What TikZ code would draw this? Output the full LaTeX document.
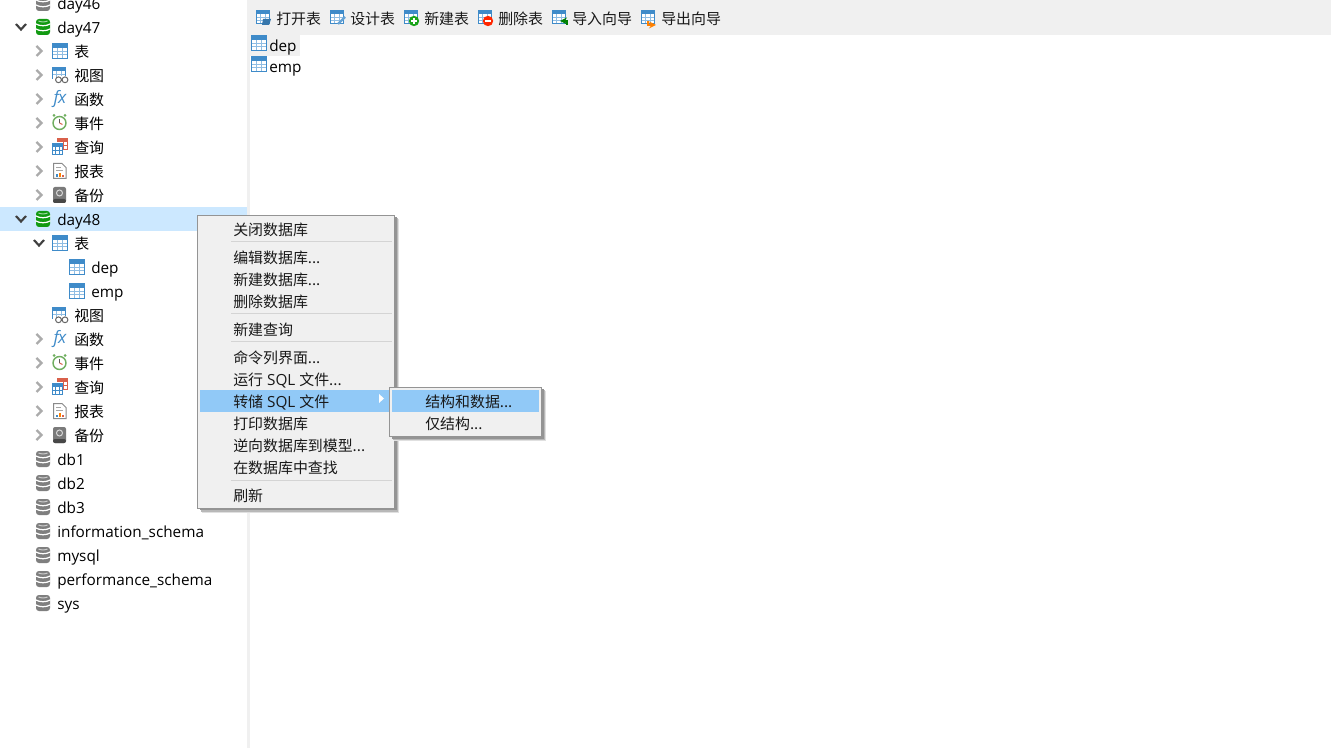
\documentclass[tikz,border=0pt]{standalone}
\usepackage{fontspec}
\setmainfont[Scale=1.025]{Open Sans}
\newfontfamily\cjk{Noto Sans CJK SC}
\newcommand{\uitext}{\fontsize{11.2pt}{13pt}\selectfont}
\newcommand{\cn}[1]{{\cjk #1}}
\definecolor{panel}{HTML}{F0F0F0}
\definecolor{sel}{HTML}{CCE8FF}
\definecolor{hl}{HTML}{91C9F7}
\definecolor{tblue}{HTML}{3F8BC9}
\definecolor{tline}{HTML}{8FBDE3}
\definecolor{dbgreen}{HTML}{129A12}
\definecolor{dbgray}{HTML}{7F7F7F}
\definecolor{sepc}{HTML}{D4D4D4}
\definecolor{chev}{HTML}{ABABAB}
\definecolor{chevd}{HTML}{404040}
\definecolor{treport}{HTML}{8A8A8A}
\definecolor{salmon}{HTML}{D9604A}
\definecolor{clockg}{HTML}{6FAE5F}
\tikzset{
  x=0.75pt,y=-0.75pt,
  lab/.style={anchor=base west,inner sep=0pt,yshift=-4.9pt,text=black,font=\uitext},
  tb/.style={lab,text=black!90},
  menubox/.style={fill=panel,draw=black!42,line width=0.75pt},
  sepline/.style={draw=sepc,line width=0.75pt},
  closed/.style={draw=chev,line width=1.6pt},
  open/.style={draw=chevd,line width=1.6pt}
}
\newcommand{\softshadow}[4]{%
  \fill[black!12] (#1+4,#2+4) rectangle (#3+4.5,#4+4.5);
  \fill[black!28] (#1+3,#2+3) rectangle (#3+3.5,#4+3.5);
  \fill[black!42] (#1+2,#2+2) rectangle (#3+2,#4+2);}
\newcommand{\tblicon}[2]{%
  \begin{scope}[shift={(#1,#2)}]
    \fill[white] (0,0) rectangle (16,16);
    \fill[tblue] (0,0) rectangle (16,5);
    \draw[tline,line width=0.75pt] (5.5,5) -- (5.5,15.5) (10.5,5) -- (10.5,15.5) (0.5,8.5) -- (15.5,8.5) (0.5,12) -- (15.5,12);
    \draw[tblue,line width=0.75pt] (0.5,1) -- (0.5,15.5) -- (15.5,15.5) -- (15.5,1);
  \end{scope}}
\newcommand{\dbicon}[3]{%
  \begin{scope}[shift={(#1,#2)}]
    \fill[#3,rounded corners=2.2pt] (-7,-8) rectangle (7,8);
    \draw[white,line width=0.9pt] (-7.5,-3.2) .. controls (-3,-0.6) and (3,-0.6) .. (7.5,-3.2);
    \draw[white,line width=0.9pt] (-7.5,1.8) .. controls (-3,4.4) and (3,4.4) .. (7.5,1.8);
    \draw[white,opacity=.6,line width=0.75pt] (-4.5,-6) .. controls (-2,-4.8) and (2,-4.8) .. (4.5,-6);
  \end{scope}}
\newcommand{\chevclosed}[2]{\draw[closed] (#1-2.5,#2-5) -- (#1+2.5,#2) -- (#1-2.5,#2+5);}
\newcommand{\chevopen}[2]{\draw[open] (#1-5,#2-3) -- (#1,#2+2.5) -- (#1+5,#2-3);}
\newcommand{\viewicon}[2]{%
  \begin{scope}[shift={(#1,#2)}]
    \fill[tblue] (0,0) rectangle (14,4.5);
    \draw[tline,line width=0.75pt] (4.5,4) -- (4.5,10) (9,4) -- (9,9) (0.5,7.5) -- (13.5,7.5);
    \draw[tblue,line width=0.75pt] (0.5,4) -- (0.5,12) (13.5,4) -- (13.5,9);
    \draw[black!60,fill=white,line width=0.75pt] (6.5,12.8) circle (2.9) (13,12.8) circle (2.9);
  \end{scope}}
\newcommand{\fxicon}[2]{\node[inner sep=0pt,text=tblue,font=\fontsize{12.5pt}{13pt}\selectfont] at (#1,#2) {$\mathit{f}\hspace{-0.5pt}\mathit{x}$};}
\newcommand{\clockicon}[2]{%
  \begin{scope}[shift={(#1,#2)}]
    \fill[clockg] (-5.5,-7.5) circle (1.5) (5.5,-7.5) circle (1.5);
    \draw[clockg,fill=white,line width=1.1pt] (0,0) circle (6.5);
    \draw[black!65,line width=0.7pt] (0,-4) -- (0,0);
    \draw[salmon,line width=0.7pt] (0,0) -- (3,1.5);
  \end{scope}}
\newcommand{\queryicon}[2]{%
  \begin{scope}[shift={(#1,#2)}]
    \fill[white] (5,-1) rectangle (16,11);
    \fill[salmon] (5,-1) rectangle (16,3);
    \draw[salmon,line width=0.75pt] (15.5,0) -- (15.5,11) -- (11,11) (11.5,3) -- (11.5,11) (11,6.5) -- (15.5,6.5);
    \fill[white] (0,4) rectangle (11,16);
    \fill[tblue] (0,4) rectangle (11,8);
    \draw[tblue,line width=0.75pt] (0.5,8) -- (0.5,15.5) -- (10.5,15.5) -- (10.5,8) (3.8,8) -- (3.8,15.5) (7.2,8) -- (7.2,15.5) (0.5,11.5) -- (10.5,11.5);
  \end{scope}}
\newcommand{\reporticon}[2]{%
  \begin{scope}[shift={(#1,#2)}]
    \draw[treport,fill=white,line width=0.75pt] (0.5,0.5) -- (9,0.5) -- (13,4.5) -- (13,15.5) -- (0.5,15.5) -- cycle;
    \draw[black!35,line width=0.6pt] (3,4) -- (8,4) (3,7) -- (10,7);
    \fill[tblue] (3,11.5) rectangle (5,14);
    \fill[orange] (6,10) rectangle (8,14);
    \fill[salmon] (9,12) rectangle (11,14);
  \end{scope}}
\newcommand{\backupicon}[2]{%
  \begin{scope}[shift={(#1,#2)}]
    \fill[black!52,rounded corners=1.5pt] (0,0) rectangle (13,16);
    \fill[black!72,rounded corners=1.5pt] (0,12) rectangle (13,16);
    \draw[white!85!black,line width=0.75pt] (6.5,6) circle (3);
  \end{scope}}
\newcommand{\tbaricon}[2]{%
  \begin{scope}[shift={(#1,#2)}]
    \fill[white] (0,0) rectangle (14,14);
    \fill[tblue] (0,0) rectangle (14,4.5);
    \draw[tline,line width=0.75pt] (4.7,4) -- (4.7,13.5) (9.3,4) -- (9.3,13.5) (0.5,7.5) -- (13.5,7.5) (0.5,10.5) -- (13.5,10.5);
    \draw[tblue,line width=0.75pt] (0.5,1) -- (0.5,13.5) -- (13.5,13.5) -- (13.5,1);
  \end{scope}}
\begin{document}
\begin{tikzpicture}
\useasboundingbox (0,0) rectangle (1331,748);
\fill[white] (0,0) rectangle (1331,748);
\fill[panel] (247,0) rectangle (250,748);
\fill[panel] (250,0) rectangle (1331,35);
\fill[sel] (0,207) rectangle (247,231);
\fill[panel] (250,35) rectangle (300,56);
% toolbar
\tbaricon{256}{10}
\fill[tblue!85!black] (263,19) -- (271,19) -- (269,25) -- (262,25) -- cycle;
\node[tb] (t1) at (276,18) {\cn{打开表}};
\tbaricon{330}{10}
\draw[tblue!80,line width=1.8pt] (338,24) -- (345,17);
\node[tb] (t2) at (350,18) {\cn{设计表}};
\tbaricon{404}{10}
\fill[green!60!black!90] (414,21) circle (5.2);
\draw[white,line width=1pt] (411,21) -- (417,21) (414,18) -- (414,24);
\node[tb] (t3) at (424,18) {\cn{新建表}};
\tbaricon{478}{10}
\fill[red!70!orange] (488,21) circle (5.2);
\draw[white,line width=1.2pt] (485,21) -- (491,21);
\node[tb] (t4) at (498,18) {\cn{删除表}};
\tbaricon{552}{10}
\draw[green!50!black,line width=1.3pt,-stealth] (567,25) -- (567,21) -- (560,21);
\node[tb] (t5) at (572,18) {\cn{导入向导}};
\tbaricon{641}{10}
\draw[orange,line width=1.3pt,-stealth] (648,21) -- (648,25) -- (656,25);
\node[tb] (t6) at (661,18) {\cn{导出向导}};
% table list
\tblicon{251}{35}
\node[lab] (ldep) at (269,45) {dep};
\tblicon{251}{56}
\node[lab] (lemp) at (269,66) {emp};
% tree
\dbicon{43}{3}{dbgray}
\node[lab] (d46) at (57,3) {day46};
\chevopen{21}{27}
\dbicon{43}{27}{dbgreen}
\node[lab] (d47) at (57,27) {day47};
\chevclosed{39}{51}\tblicon{52}{43}
\node[lab] (a1) at (74,51) {\cn{表}};
\chevclosed{39}{75}\viewicon{52}{67}
\node[lab] (a2) at (74,75) {\cn{视图}};
\chevclosed{39}{99}\fxicon{60}{99}
\node[lab] (a3) at (74,99) {\cn{函数}};
\chevclosed{39}{123}\clockicon{59.5}{123}
\node[lab] (a4) at (74,123) {\cn{事件}};
\chevclosed{39}{147}\queryicon{52}{139}
\node[lab] (a5) at (74,147) {\cn{查询}};
\chevclosed{39}{171}\reporticon{53}{163}
\node[lab] (a6) at (74,171) {\cn{报表}};
\chevclosed{39}{195}\backupicon{53}{187}
\node[lab] (a7) at (74,195) {\cn{备份}};
\chevopen{21}{219}
\dbicon{43}{219}{dbgreen}
\node[lab] (d48) at (57,219) {day48};
\chevopen{39}{243}\tblicon{52}{235}
\node[lab] (b1) at (74,243) {\cn{表}};
\tblicon{69}{259}
\node[lab] (b1a) at (91,267) {dep};
\tblicon{69}{283}
\node[lab] (b1b) at (91,291) {emp};
\viewicon{52}{307}
\node[lab] (b2) at (74,315) {\cn{视图}};
\chevclosed{39}{339}\fxicon{60}{339}
\node[lab] (b3) at (74,339) {\cn{函数}};
\chevclosed{39}{363}\clockicon{59.5}{363}
\node[lab] (b4) at (74,363) {\cn{事件}};
\chevclosed{39}{387}\queryicon{52}{379}
\node[lab] (b5) at (74,387) {\cn{查询}};
\chevclosed{39}{411}\reporticon{53}{403}
\node[lab] (b6) at (74,411) {\cn{报表}};
\chevclosed{39}{435}\backupicon{53}{427}
\node[lab] (b7) at (74,435) {\cn{备份}};
\dbicon{43}{459}{dbgray}
\node[lab] (c1) at (57,459) {db1};
\dbicon{43}{483}{dbgray}
\node[lab] (c2) at (57,483) {db2};
\dbicon{43}{507}{dbgray}
\node[lab] (c3) at (57,507) {db3};
\dbicon{43}{531}{dbgray}
\node[lab] (c4) at (57,531) {information\_schema};
\dbicon{43}{555}{dbgray}
\node[lab] (c5) at (57,555) {mysql};
\dbicon{43}{579}{dbgray}
\node[lab] (c6) at (57,579) {performance\_schema};
\dbicon{43}{603}{dbgray}
\node[lab] (c7) at (57,603) {sys};
% context menu
\softshadow{197.5}{215.5}{394.5}{508}
\draw[menubox] (197.5,215.5) rectangle (394.5,508);
\fill[hl] (200,390) rectangle (389,412);
\foreach \yy in {242,314,342,480} \draw[sepline] (231,\yy) -- (392,\yy);
\node[tb] (m1) at (233,229) {\cn{关闭数据库}};
\node[tb] (m2) at (233,257) {\cn{编辑数据库...}};
\node[tb] (m3) at (233,279) {\cn{新建数据库...}};
\node[tb] (m4) at (233,301) {\cn{删除数据库}};
\node[tb] (m5) at (233,329) {\cn{新建查询}};
\node[tb] (m6) at (233,357) {\cn{命令列界面...}};
\node[tb] (m7) at (233,379) {\cn{运行} SQL \cn{文件...}};
\node[tb] (m8) at (233,401) {\cn{转储} SQL \cn{文件}};
\node[tb] (m9) at (233,423) {\cn{打印数据库}};
\node[tb] (m10) at (233,445) {\cn{逆向数据库到模型...}};
\node[tb] (m11) at (233,467) {\cn{在数据库中查找}};
\node[tb] (m12) at (233,495) {\cn{刷新}};
\fill[white] (379,394) -- (384,398.5) -- (379,403) -- cycle;
% submenu
\softshadow{389.5}{387.5}{541.5}{436.5}
\draw[menubox] (389.5,387.5) rectangle (541.5,436.5);
\fill[hl] (392,390) rectangle (539,412);
\node[tb] (s1) at (425,401) {\cn{结构和数据...}};
\node[tb] (s2) at (425,423) {\cn{仅结构...}};
\end{tikzpicture}
\end{document}
